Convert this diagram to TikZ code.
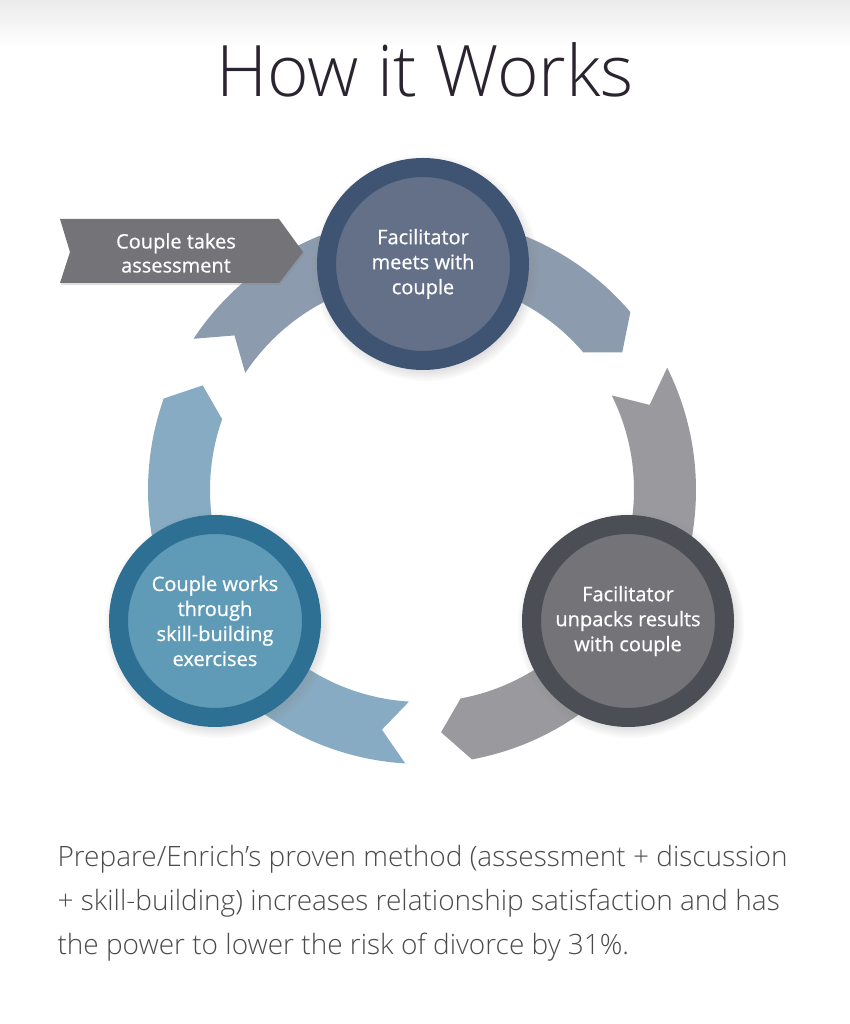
\documentclass[tikz,border=0pt]{standalone}
\usepackage{fontspec}
\setmainfont{Open Sans}
\newfontfamily\lightfont{Open Sans Light}
\newfontfamily\semifont[FakeBold=0.7]{Open Sans}
\usepackage{xcolor}
\usepackage{tikz}
\usetikzlibrary{shapes,arrows,positioning,calc,shadows}
\definecolor{meetring}{RGB}{62,84,114}
\definecolor{meetfill}{RGB}{100,111,136}
\definecolor{unpackring}{RGB}{75,78,84}
\definecolor{unpackfill}{RGB}{115,115,120}
\definecolor{workring}{RGB}{46,111,148}
\definecolor{workfill}{RGB}{95,155,183}
\definecolor{arctop}{RGB}{140,155,173}
\definecolor{arcright}{RGB}{154,154,158}
\definecolor{arcleft}{RGB}{135,171,194}
\definecolor{bannergray}{RGB}{116,115,120}
\definecolor{titleink}{RGB}{42,36,48}
\definecolor{bodyink}{RGB}{75,75,75}

\begin{document}
\begin{tikzpicture}[x=1pt, y=1pt]
\tikzstyle{stage} = [circle, minimum size=193pt, line width=19pt, text=white, align=center, font=\semifont\fontsize{20}{25}\selectfont, circular drop shadow={shadow scale=1.18, shadow xshift=2pt, shadow yshift=-3pt, opacity=.35}]
\tikzstyle{band} = [draw=none]
\useasboundingbox (0,0) rectangle (850,1024);
\shade[top color=black!8, bottom color=white] (0,1024) rectangle (850,978);

\node [anchor=base, text=titleink, font=\lightfont\fontsize{71}{71}\selectfont] (title) at (425,927) {How it Works};

% the three curved arrows round one hub
\coordinate (hub) at (422,534);
\begin{scope}[shift={(hub)}]
\foreach \s/\col in {146.5/arctop, 26.5/arcright, -93.5/arcleft}
  \fill [band, fill=\col] (\s:274pt) arc [start angle=\s, end angle=\s-106, radius=274pt]
    -- (\s-112:243pt) -- (\s-106:212pt)
    arc [start angle=\s-106, end angle=\s, radius=212pt]
    -- (\s-6:243pt) -- cycle;
\end{scope}

\fill [bannergray, drop shadow={opacity=.25, shadow xshift=1pt, shadow yshift=-2pt}] (60,805) -- (279,805) -- (303,772) -- (279,741) -- (60,741) -- (70,772) -- cycle;
\node [text=white, align=center, font=\semifont\fontsize{20}{24}\selectfont] (assess) at (176,771) {Couple takes\\assessment};

\node [stage, draw=meetring, fill=meetfill] (meet) at (423,760) {Facilitator\\meets with\\couple};
\node [stage, draw=unpackring, fill=unpackfill] (unpack) at (628,403) {Facilitator\\unpacks results\\with couple};
\node [stage, draw=workring, fill=workfill] (work) at (215,403) {Couple works\\through\\skill-building\\exercises};

\node [anchor=north west, align=left, text=bodyink, font=\lightfont\fontsize{28}{44}\selectfont] (claim) at (54,182) {Prepare/Enrich’s proven method (assessment + discussion\\+ skill-building) increases relationship satisfaction and has\\the power to lower the risk of divorce by 31\%.};
\end{tikzpicture}
\end{document}
